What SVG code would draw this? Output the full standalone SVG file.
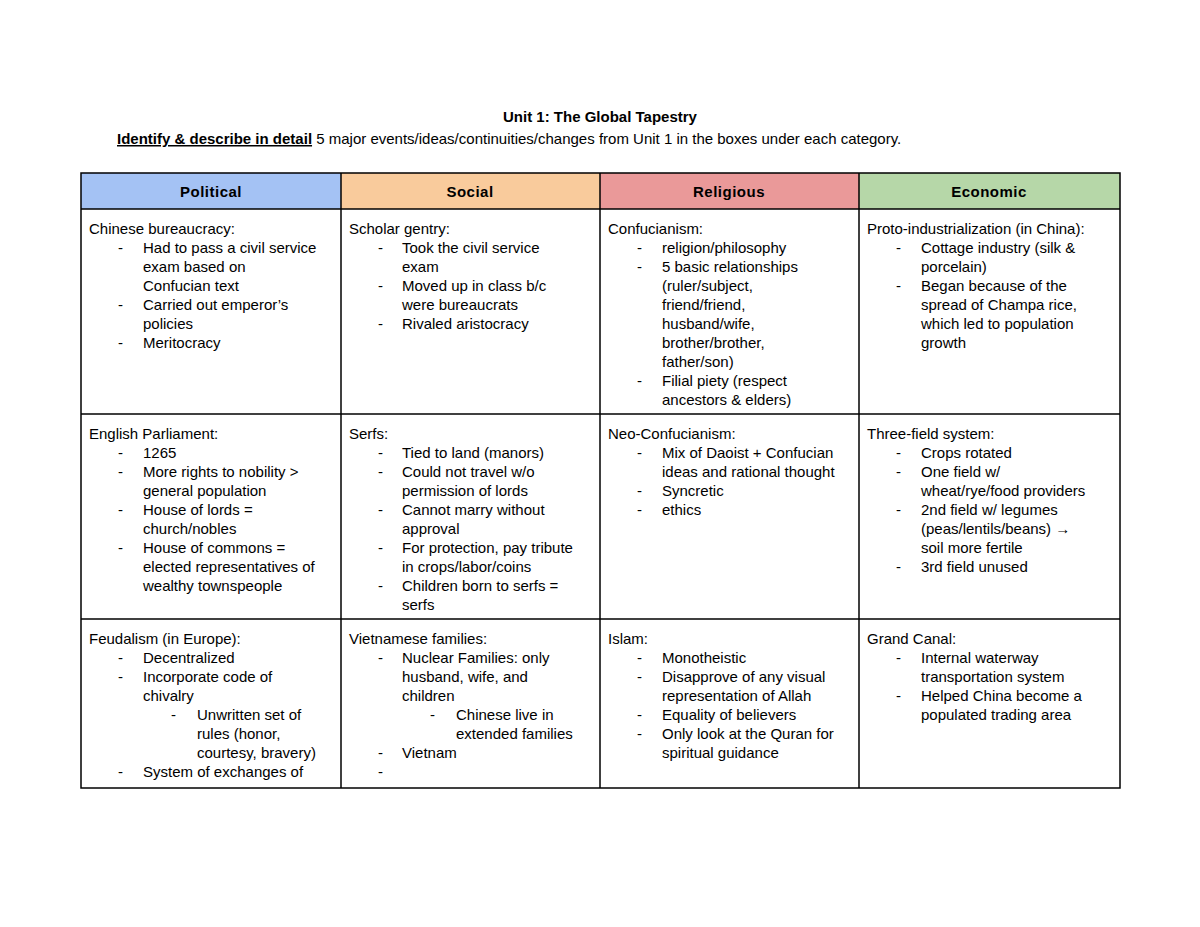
<svg xmlns="http://www.w3.org/2000/svg" width="1200" height="927" viewBox="0 0 1200 927">
<style>
text{font-family:"Liberation Sans",Arial,sans-serif;font-size:15px;fill:#000}
.h{font-weight:bold;text-anchor:middle;letter-spacing:0.5px}
.g{fill:none;stroke:#000;stroke-width:1.5}
</style>
<rect width="1200" height="927" fill="#fff"/>
<text x="600" y="122" font-weight="bold" text-anchor="middle">Unit 1: The Global Tapestry</text>
<text x="117" y="144"><tspan font-weight="bold" text-decoration="underline">Identify &amp; describe in detail</tspan> 5 major events/ideas/continuities/changes from Unit 1 in the boxes under each category.</text>
<g id="headers">
<rect x="81" y="173" width="260" height="36" fill="#a4c2f4"/>
<rect x="341" y="173" width="259" height="36" fill="#f9cb9c"/>
<rect x="600" y="173" width="259" height="36" fill="#ea9999"/>
<rect x="859" y="173" width="261" height="36" fill="#b6d7a8"/>
<text class="h" x="211" y="197">Political</text>
<text class="h" x="470" y="197">Social</text>
<text class="h" x="729" y="197">Religious</text>
<text class="h" x="989" y="197">Economic</text>
</g>
<g id="grid" class="g">
<rect x="81" y="173" width="1039" height="615"/>
<line x1="81" y1="209" x2="1120" y2="209"/>
<line x1="81" y1="414" x2="1120" y2="414"/>
<line x1="81" y1="619" x2="1120" y2="619"/>
<line x1="341" y1="173" x2="341" y2="788"/>
<line x1="600" y1="173" x2="600" y2="788"/>
<line x1="859" y1="173" x2="859" y2="788"/>
</g>
<g id="r1c1">
<text x="89" y="234">Chinese bureaucracy:</text>
<text x="118" y="253">-</text><text x="143" y="253">Had to pass a civil service</text>
<text x="143" y="272">exam based on</text>
<text x="143" y="291">Confucian text</text>
<text x="118" y="310">-</text><text x="143" y="310">Carried out emperor’s</text>
<text x="143" y="329">policies</text>
<text x="118" y="348">-</text><text x="143" y="348">Meritocracy</text>
</g>
<g id="r1c2">
<text x="349" y="234">Scholar gentry:</text>
<text x="378" y="253">-</text><text x="402" y="253">Took the civil service</text>
<text x="402" y="272">exam</text>
<text x="378" y="291">-</text><text x="402" y="291">Moved up in class b/c</text>
<text x="402" y="310">were bureaucrats</text>
<text x="378" y="329">-</text><text x="402" y="329">Rivaled aristocracy</text>
</g>
<g id="r1c3">
<text x="608" y="234">Confucianism:</text>
<text x="637" y="253">-</text><text x="662" y="253">religion/philosophy</text>
<text x="637" y="272">-</text><text x="662" y="272">5 basic relationships</text>
<text x="662" y="291">(ruler/subject,</text>
<text x="662" y="310">friend/friend,</text>
<text x="662" y="329">husband/wife,</text>
<text x="662" y="348">brother/brother,</text>
<text x="662" y="367">father/son)</text>
<text x="637" y="386">-</text><text x="662" y="386">Filial piety (respect</text>
<text x="662" y="405">ancestors &amp; elders)</text>
</g>
<g id="r1c4">
<text x="867" y="234">Proto-industrialization (in China):</text>
<text x="896" y="253">-</text><text x="921" y="253">Cottage industry (silk &amp;</text>
<text x="921" y="272">porcelain)</text>
<text x="896" y="291">-</text><text x="921" y="291">Began because of the</text>
<text x="921" y="310">spread of Champa rice,</text>
<text x="921" y="329">which led to population</text>
<text x="921" y="348">growth</text>
</g>
<g id="r2c1">
<text x="89" y="439">English Parliament:</text>
<text x="118" y="458">-</text><text x="143" y="458">1265</text>
<text x="118" y="477">-</text><text x="143" y="477">More rights to nobility &gt;</text>
<text x="143" y="496">general population</text>
<text x="118" y="515">-</text><text x="143" y="515">House of lords =</text>
<text x="143" y="534">church/nobles</text>
<text x="118" y="553">-</text><text x="143" y="553">House of commons =</text>
<text x="143" y="572">elected representatives of</text>
<text x="143" y="591">wealthy townspeople</text>
</g>
<g id="r2c2">
<text x="349" y="439">Serfs:</text>
<text x="378" y="458">-</text><text x="402" y="458">Tied to land (manors)</text>
<text x="378" y="477">-</text><text x="402" y="477">Could not travel w/o</text>
<text x="402" y="496">permission of lords</text>
<text x="378" y="515">-</text><text x="402" y="515">Cannot marry without</text>
<text x="402" y="534">approval</text>
<text x="378" y="553">-</text><text x="402" y="553">For protection, pay tribute</text>
<text x="402" y="572">in crops/labor/coins</text>
<text x="378" y="591">-</text><text x="402" y="591">Children born to serfs =</text>
<text x="402" y="610">serfs</text>
</g>
<g id="r2c3">
<text x="608" y="439">Neo-Confucianism:</text>
<text x="637" y="458">-</text><text x="662" y="458">Mix of Daoist + Confucian</text>
<text x="662" y="477">ideas and rational thought</text>
<text x="637" y="496">-</text><text x="662" y="496">Syncretic</text>
<text x="637" y="515">-</text><text x="662" y="515">ethics</text>
</g>
<g id="r2c4">
<text x="867" y="439">Three-field system:</text>
<text x="896" y="458">-</text><text x="921" y="458">Crops rotated</text>
<text x="896" y="477">-</text><text x="921" y="477">One field w/</text>
<text x="921" y="496">wheat/rye/food providers</text>
<text x="896" y="515">-</text><text x="921" y="515">2nd field w/ legumes</text>
<text x="921" y="534">(peas/lentils/beans) →</text>
<text x="921" y="553">soil more fertile</text>
<text x="896" y="572">-</text><text x="921" y="572">3rd field unused</text>
</g>
<g id="r3c1">
<text x="89" y="644">Feudalism (in Europe):</text>
<text x="118" y="663">-</text><text x="143" y="663">Decentralized</text>
<text x="118" y="682">-</text><text x="143" y="682">Incorporate code of</text>
<text x="143" y="701">chivalry</text>
<text x="171" y="720">-</text><text x="197" y="720">Unwritten set of</text>
<text x="197" y="739">rules (honor,</text>
<text x="197" y="758">courtesy, bravery)</text>
<text x="118" y="777">-</text><text x="143" y="777">System of exchanges of</text>
</g>
<g id="r3c2">
<text x="349" y="644">Vietnamese families:</text>
<text x="378" y="663">-</text><text x="402" y="663">Nuclear Families: only</text>
<text x="402" y="682">husband, wife, and</text>
<text x="402" y="701">children</text>
<text x="430" y="720">-</text><text x="456" y="720">Chinese live in</text>
<text x="456" y="739">extended families</text>
<text x="378" y="758">-</text><text x="402" y="758">Vietnam</text>
<text x="378" y="777">-</text>
</g>
<g id="r3c3">
<text x="608" y="644">Islam:</text>
<text x="637" y="663">-</text><text x="662" y="663">Monotheistic</text>
<text x="637" y="682">-</text><text x="662" y="682">Disapprove of any visual</text>
<text x="662" y="701">representation of Allah</text>
<text x="637" y="720">-</text><text x="662" y="720">Equality of believers</text>
<text x="637" y="739">-</text><text x="662" y="739">Only look at the Quran for</text>
<text x="662" y="758">spiritual guidance</text>
</g>
<g id="r3c4">
<text x="867" y="644">Grand Canal:</text>
<text x="896" y="663">-</text><text x="921" y="663">Internal waterway</text>
<text x="921" y="682">transportation system</text>
<text x="896" y="701">-</text><text x="921" y="701">Helped China become a</text>
<text x="921" y="720">populated trading area</text>
</g>
</svg>
